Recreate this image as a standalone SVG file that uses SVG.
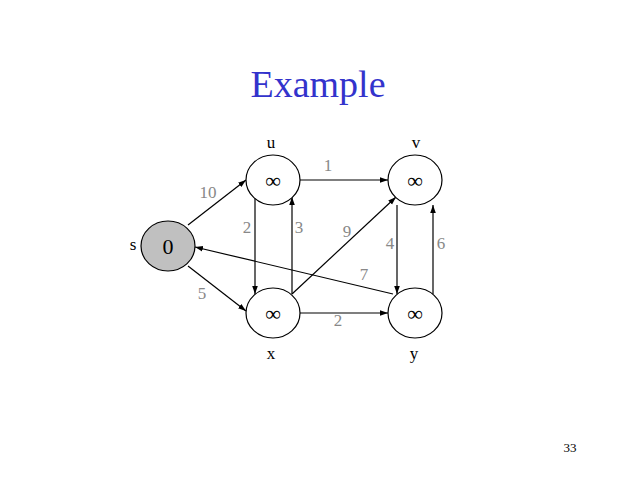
<svg xmlns="http://www.w3.org/2000/svg" width="638" height="478" viewBox="0 0 638 478">
<style>
text{font-family:"Liberation Serif",serif}
.n{fill:#fff;stroke:#000;stroke-width:1.2}
.w{fill:#888;font-size:17px;text-anchor:middle}
.l{fill:#000;font-size:17px;text-anchor:middle}
.v{fill:#000;font-size:22px;text-anchor:middle}
.e{stroke:#000;stroke-width:1.2;fill:none;marker-end:url(#a)}
</style>
<defs><marker id="a" viewBox="0 0 10 10" refX="10" refY="5" markerWidth="8" markerHeight="8" markerUnits="userSpaceOnUse" orient="auto"><path d="M0,1.5L10,5L0,8.5z" fill="#000"/></marker></defs>
<rect width="638" height="478" fill="#fff"/>
<text x="318" y="97" font-size="38" fill="#3333cc" text-anchor="middle">Example</text>
<text x="570" y="452" font-size="13" text-anchor="middle">33</text>
<g id="connectors">
<line class="e" x1="188" y1="225" x2="246" y2="180"/>
<line class="e" x1="188" y1="266" x2="246" y2="311"/>
<line class="e" x1="300" y1="180" x2="388" y2="180"/>
<line class="e" x1="255" y1="197" x2="255" y2="294"/>
<line class="e" x1="292" y1="294" x2="292" y2="197"/>
<line class="e" x1="292" y1="294" x2="396" y2="197"/>
<line class="e" x1="397" y1="205" x2="397" y2="294"/>
<line class="e" x1="433" y1="294" x2="433" y2="205"/>
<line class="e" x1="300" y1="313" x2="388" y2="313"/>
<line class="e" x1="393" y1="294" x2="195" y2="247"/>
<text class="w" x="208" y="198">10</text>
<text class="w" x="247" y="233">2</text>
<text class="w" x="299" y="233">3</text>
<text class="w" x="347" y="237">9</text>
<text class="w" x="390" y="249">4</text>
<text class="w" x="441" y="249">6</text>
<text class="w" x="364" y="280">7</text>
<text class="w" x="202" y="299">5</text>
<text class="w" x="328" y="171">1</text>
<text class="w" x="338" y="326">2</text>
</g>
<g id="s"><ellipse cx="168" cy="246" rx="27" ry="25" fill="#c0c0c0" stroke="#000" stroke-width="1.2"/><text class="v" x="168" y="254">0</text><text class="l" x="133" y="250">s</text></g>
<g id="u"><ellipse class="n" cx="273" cy="180" rx="27" ry="25"/><text class="v" x="273" y="188">∞</text><text class="l" x="271" y="148">u</text></g>
<g id="v"><ellipse class="n" cx="415" cy="180" rx="27" ry="25"/><text class="v" x="415" y="188">∞</text><text class="l" x="416" y="148">v</text></g>
<g id="x"><ellipse class="n" cx="273" cy="313" rx="27" ry="25"/><text class="v" x="273" y="321">∞</text><text class="l" x="271" y="359">x</text></g>
<g id="y"><ellipse class="n" cx="415" cy="313" rx="27" ry="25"/><text class="v" x="415" y="321">∞</text><text class="l" x="414" y="359">y</text></g>
</svg>
